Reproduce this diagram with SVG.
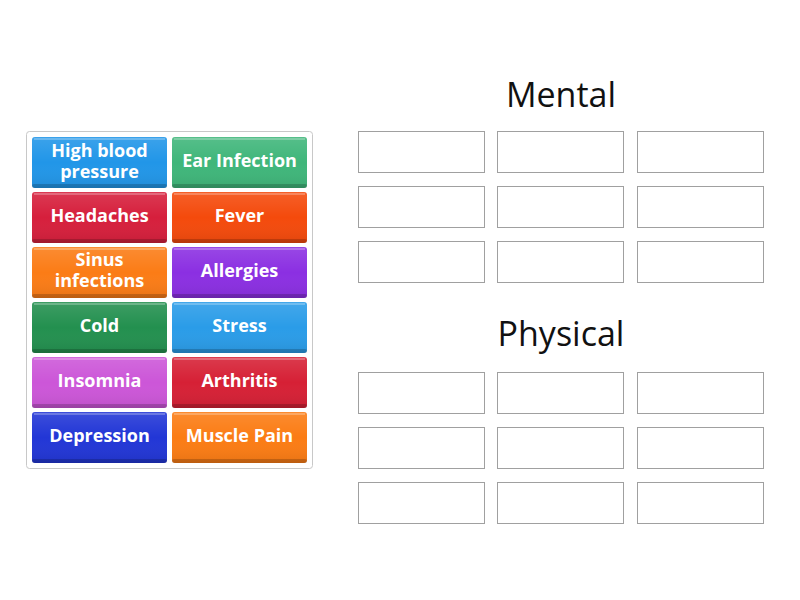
<svg xmlns="http://www.w3.org/2000/svg" width="800" height="600" viewBox="0 0 800 600">
<defs>
<linearGradient id="shade" x1="0" y1="0" x2="0" y2="1">
<stop offset="0" stop-color="#fff" stop-opacity="0.12"/>
<stop offset="0.5" stop-color="#fff" stop-opacity="0"/>
<stop offset="1" stop-color="#000" stop-opacity="0.08"/>
</linearGradient>
</defs>
<style>
.tile-text{font-family:"Open Sans","Noto Sans",sans-serif;font-weight:bold;font-size:18px;fill:#fff;text-anchor:middle}
.slot{fill:#fff;stroke:#a0a0a0;stroke-width:1}
.head{font-family:"Open Sans","Noto Sans",sans-serif;font-size:34px;fill:#111;text-anchor:middle}
.bot{fill:#000;fill-opacity:0.18}
.hl{fill:#fff;fill-opacity:0.25}
</style>
<rect width="800" height="600" fill="#fff"/>
<rect x="26.5" y="131.5" width="286" height="337" rx="3" fill="#fff" stroke="#c8c8c8"/>

<g id="tile-high-blood-pressure">
<rect x="32" y="137" width="135" height="51" rx="3" fill="#2196e8"/>
<rect x="32" y="184" width="135" height="4" rx="2" class="bot"/>
<rect x="34" y="138" width="131" height="2" class="hl"/>
<rect x="32" y="137" width="135" height="51" rx="3" fill="url(#shade)"/>
<text class="tile-text" x="99.5" y="157">High blood</text>
<text class="tile-text" x="99.5" y="178">pressure</text>
</g>
<g id="tile-ear-infection">
<rect x="172" y="137" width="135" height="51" rx="3" fill="#3fb67a"/>
<rect x="172" y="184" width="135" height="4" rx="2" class="bot"/>
<rect x="174" y="138" width="131" height="2" class="hl"/>
<rect x="172" y="137" width="135" height="51" rx="3" fill="url(#shade)"/>
<text class="tile-text" x="239.5" y="167">Ear Infection</text>
</g>
<g id="tile-headaches">
<rect x="32" y="192" width="135" height="51" rx="3" fill="#d61f3c"/>
<rect x="32" y="239" width="135" height="4" rx="2" class="bot"/>
<rect x="34" y="193" width="131" height="2" class="hl"/>
<rect x="32" y="192" width="135" height="51" rx="3" fill="url(#shade)"/>
<text class="tile-text" x="99.5" y="222">Headaches</text>
</g>
<g id="tile-fever">
<rect x="172" y="192" width="135" height="51" rx="3" fill="#f44a0c"/>
<rect x="172" y="239" width="135" height="4" rx="2" class="bot"/>
<rect x="174" y="193" width="131" height="2" class="hl"/>
<rect x="172" y="192" width="135" height="51" rx="3" fill="url(#shade)"/>
<text class="tile-text" x="239.5" y="222">Fever</text>
</g>
<g id="tile-sinus-infections">
<rect x="32" y="247" width="135" height="51" rx="3" fill="#fb7c16"/>
<rect x="32" y="294" width="135" height="4" rx="2" class="bot"/>
<rect x="34" y="248" width="131" height="2" class="hl"/>
<rect x="32" y="247" width="135" height="51" rx="3" fill="url(#shade)"/>
<text class="tile-text" x="99.5" y="266">Sinus</text>
<text class="tile-text" x="99.5" y="287">infections</text>
</g>
<g id="tile-allergies">
<rect x="172" y="247" width="135" height="51" rx="3" fill="#8b2fe2"/>
<rect x="172" y="294" width="135" height="4" rx="2" class="bot"/>
<rect x="174" y="248" width="131" height="2" class="hl"/>
<rect x="172" y="247" width="135" height="51" rx="3" fill="url(#shade)"/>
<text class="tile-text" x="239.5" y="277">Allergies</text>
</g>
<g id="tile-cold">
<rect x="32" y="302" width="135" height="51" rx="3" fill="#23904f"/>
<rect x="32" y="349" width="135" height="4" rx="2" class="bot"/>
<rect x="34" y="303" width="131" height="2" class="hl"/>
<rect x="32" y="302" width="135" height="51" rx="3" fill="url(#shade)"/>
<text class="tile-text" x="99.5" y="332">Cold</text>
</g>
<g id="tile-stress">
<rect x="172" y="302" width="135" height="51" rx="3" fill="#2a9ce8"/>
<rect x="172" y="349" width="135" height="4" rx="2" class="bot"/>
<rect x="174" y="303" width="131" height="2" class="hl"/>
<rect x="172" y="302" width="135" height="51" rx="3" fill="url(#shade)"/>
<text class="tile-text" x="239.5" y="332">Stress</text>
</g>
<g id="tile-insomnia">
<rect x="32" y="357" width="135" height="51" rx="3" fill="#cc56d8"/>
<rect x="32" y="404" width="135" height="4" rx="2" class="bot"/>
<rect x="34" y="358" width="131" height="2" class="hl"/>
<rect x="32" y="357" width="135" height="51" rx="3" fill="url(#shade)"/>
<text class="tile-text" x="99.5" y="387">Insomnia</text>
</g>
<g id="tile-arthritis">
<rect x="172" y="357" width="135" height="51" rx="3" fill="#d62035"/>
<rect x="172" y="404" width="135" height="4" rx="2" class="bot"/>
<rect x="174" y="358" width="131" height="2" class="hl"/>
<rect x="172" y="357" width="135" height="51" rx="3" fill="url(#shade)"/>
<text class="tile-text" x="239.5" y="387">Arthritis</text>
</g>
<g id="tile-depression">
<rect x="32" y="412" width="135" height="51" rx="3" fill="#2236d6"/>
<rect x="32" y="459" width="135" height="4" rx="2" class="bot"/>
<rect x="34" y="413" width="131" height="2" class="hl"/>
<rect x="32" y="412" width="135" height="51" rx="3" fill="url(#shade)"/>
<text class="tile-text" x="99.5" y="442">Depression</text>
</g>
<g id="tile-muscle-pain">
<rect x="172" y="412" width="135" height="51" rx="3" fill="#fb7c14"/>
<rect x="172" y="459" width="135" height="4" rx="2" class="bot"/>
<rect x="174" y="413" width="131" height="2" class="hl"/>
<rect x="172" y="412" width="135" height="51" rx="3" fill="url(#shade)"/>
<text class="tile-text" x="239.5" y="442">Muscle Pain</text>
</g>

<g id="group-mental">
<text class="head" x="561" y="107">Mental</text>
<rect class="slot" x="358.5" y="131.5" width="126" height="41"/>
<rect class="slot" x="497.5" y="131.5" width="126" height="41"/>
<rect class="slot" x="637.5" y="131.5" width="126" height="41"/>
<rect class="slot" x="358.5" y="186.5" width="126" height="41"/>
<rect class="slot" x="497.5" y="186.5" width="126" height="41"/>
<rect class="slot" x="637.5" y="186.5" width="126" height="41"/>
<rect class="slot" x="358.5" y="241.5" width="126" height="41"/>
<rect class="slot" x="497.5" y="241.5" width="126" height="41"/>
<rect class="slot" x="637.5" y="241.5" width="126" height="41"/>
</g>
<g id="group-physical">
<text class="head" x="561" y="346">Physical</text>
<rect class="slot" x="358.5" y="372.5" width="126" height="41"/>
<rect class="slot" x="497.5" y="372.5" width="126" height="41"/>
<rect class="slot" x="637.5" y="372.5" width="126" height="41"/>
<rect class="slot" x="358.5" y="427.5" width="126" height="41"/>
<rect class="slot" x="497.5" y="427.5" width="126" height="41"/>
<rect class="slot" x="637.5" y="427.5" width="126" height="41"/>
<rect class="slot" x="358.5" y="482.5" width="126" height="41"/>
<rect class="slot" x="497.5" y="482.5" width="126" height="41"/>
<rect class="slot" x="637.5" y="482.5" width="126" height="41"/>
</g>
<g id="connectors"/>
</svg>
